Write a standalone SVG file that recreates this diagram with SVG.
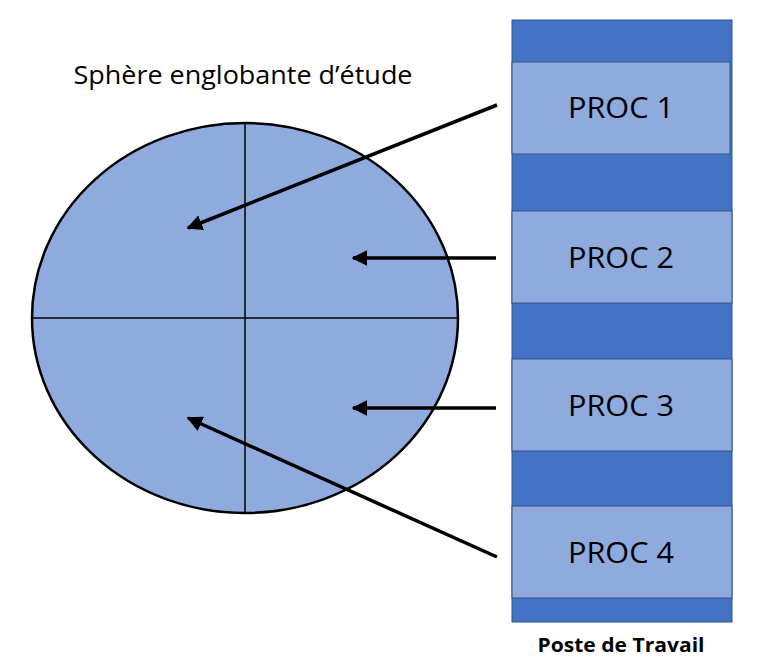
<svg xmlns="http://www.w3.org/2000/svg" width="766" height="670" viewBox="0 0 766 670">
<defs>
<style>
.lbl{font-family:"Open Sans","Liberation Sans",sans-serif;fill:#000}
.proc{font-size:30px;text-anchor:middle}
.dark{fill:#4472C4;stroke:#2F528F;stroke-width:1}
.light{fill:#8FAADC;stroke:#2F528F;stroke-width:1}
.arr{stroke:#000;stroke-width:3.5;fill:none;marker-end:url(#ah)}
</style>
<marker id="ah" viewBox="0 0 10 10" refX="9" refY="5" markerWidth="4.5" markerHeight="4.5" orient="auto" markerUnits="strokeWidth">
<path d="M0,0 L10,5 L0,10 z" fill="#000"/>
</marker>
</defs>
<rect width="766" height="670" fill="#fff"/>
<g id="sphere">
<ellipse cx="245" cy="318" rx="213" ry="195" fill="#8FAADC" stroke="#000" stroke-width="2.5"/>
<line x1="245" y1="123" x2="245" y2="513" stroke="#000" stroke-width="1.5"/>
<line x1="32" y1="318" x2="458" y2="318" stroke="#000" stroke-width="1.5"/>
<text class="lbl" x="243" y="84" font-size="25" text-anchor="middle" textLength="339" lengthAdjust="spacingAndGlyphs">Sphère englobante d’étude</text>
</g>
<g id="poste">
<rect class="dark" x="512" y="20" width="220" height="602"/>
<text class="lbl" x="621" y="652" font-size="20" font-weight="bold" text-anchor="middle" textLength="167" lengthAdjust="spacingAndGlyphs">Poste de Travail</text>
</g>
<g id="proc1"><rect class="light" x="512" y="62" width="218" height="92"/><text class="lbl proc" x="621" y="118" textLength="106" lengthAdjust="spacingAndGlyphs">PROC 1</text></g>
<g id="proc2"><rect class="light" x="512" y="211" width="220" height="92"/><text class="lbl proc" x="621" y="268" textLength="106" lengthAdjust="spacingAndGlyphs">PROC 2</text></g>
<g id="proc3"><rect class="light" x="512" y="359" width="220" height="92"/><text class="lbl proc" x="621" y="416" textLength="106" lengthAdjust="spacingAndGlyphs">PROC 3</text></g>
<g id="proc4"><rect class="light" x="512" y="506" width="220" height="92"/><text class="lbl proc" x="621" y="563" textLength="106" lengthAdjust="spacingAndGlyphs">PROC 4</text></g>
<g id="connectors">
<line class="arr" x1="497" y1="105" x2="188" y2="228"/>
<line class="arr" x1="496" y1="258" x2="353" y2="258"/>
<line class="arr" x1="496" y1="408" x2="353" y2="408"/>
<line class="arr" x1="497" y1="557" x2="188" y2="418"/>
</g>
</svg>
